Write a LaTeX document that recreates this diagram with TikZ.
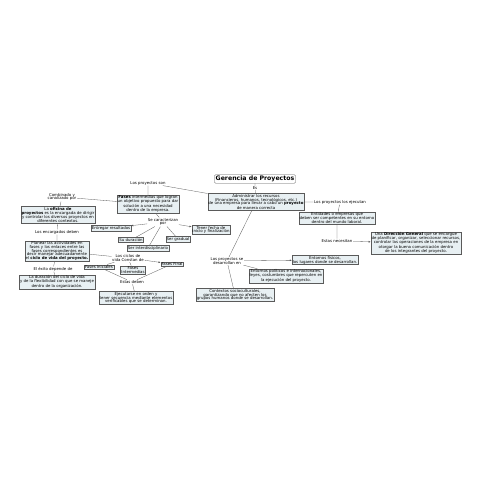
\documentclass[tikz,border=0pt]{standalone}
\usepackage{fontspec}
\setmainfont{DejaVu Sans}
\usetikzlibrary{arrows.meta}
\definecolor{cfill}{RGB}{232,240,243}
\definecolor{cline}{RGB}{90,90,90}
\tikzset{
	concept/.style={draw=cline,line width=.35pt,fill=cfill,align=center,inner sep=.8pt,
		font=\fontsize{3.9}{3.8}\selectfont},
	linkword/.style={align=center,inner sep=.6pt,font=\fontsize{3.9}{3.8}\selectfont},
	link/.style={draw=cline,line width=.3pt},
	tip/.style={link,-{Latex[length=2pt,width=1.8pt]}}
}
\begin{document}
\begin{tikzpicture}[x=1pt,y=-1pt]
			\useasboundingbox[fill=white] (0,0) rectangle (481,481);
			% centro
			\node[concept,fill=white,rounded corners=1pt,inner sep=1.2pt,font=\fontsize{6.2}{7}\selectfont\bfseries] (gerencia) at (255,179) {Gerencia de Proyectos};
			\node[linkword] (es) at (255,188) {Es};
			\node[concept] (admin) at (256,202) {Administrar los recursos\\(Financieros, humanos, tecnológicos, etc.)\\de una empresa para llevar a cabo un \textbf{proyecto}\\de manera correcta};
			% izquierda
			\node[linkword] (proyson) at (148,183) {Los proyectos son};
			\node[concept] (fases) at (148,204) {\textbf{Fases} intermedias que logran\\un objetivo propuesto para dar\\solución a una necesidad\\dentro de la empresa.};
			\node[linkword] (combinado) at (62,197) {Combinado y\\canalizado por};
			\node[concept] (oficina) at (58,215) {La \textbf{oficina de}\\\textbf{proyectos} es la encargada de dirigir\\y controlar los diversos proyectos en\\diferentes contextos.};
			\node[linkword] (encargados) at (57,232) {Los encargados deben};
			\node[concept] (planear) at (57,251) {Planear las actividades en\\fases y los enlaces entre las\\fases correspondientes es\\decir manejar adecuadamente\\el \textbf{ciclo de vida del proyecto.}};
			\node[linkword] (exito) at (53,269) {El éxito depende de};
			\node[concept] (duracion) at (57,282) {La duración del ciclo de vida\\y de la flexibilidad con que se maneje\\dentro de la organización.};
			\node[linkword] (caracterizan) at (163,222) {Se caracterizan\\por};
			\node[concept] (entregar) at (111,228) {Entregar resultados};
			\node[concept] (suduracion) at (131,240) {Su duración};
			\node[concept] (gradual) at (178,239) {Ser gradual};
			\node[concept] (interdisc) at (148,248) {Ser interdisciplinario};
			\node[concept] (fecha) at (211,230) {Tener fecha de\\inicio y finalización};
			\node[linkword] (ciclos) at (128,258) {Los ciclos de\\vida Constan de};
			\node[concept] (iniciales) at (99,267) {Fases Iniciales};
			\node[concept] (intermedias) at (133,270) {Fases\\Intermedias};
			\node[concept] (final) at (172,264) {Fases Final};
			\node[linkword] (estasdeben) at (132,282) {Estas deben};
			\node[concept] (ejecutarse) at (136,298) {Ejecutarse en orden y\\tener secuencia mediante elementos\\verificables que se determinan.};
			% abajo
			\node[linkword] (desarrollan) at (227,261) {Los proyectos se\\desarrollan en};
			\node[concept] (fisicos) at (325,260) {Entornos físicos,\\los lugares donde se desarrollan.};
			\node[concept] (politicos) at (286,276) {Entornos políticos e internacionales,\\leyes, costumbres que repercuten en\\la ejecución del proyecto.};
			\node[concept] (contextos) at (235,295) {Contextos socioculturales,\\garantizando que no afecten los\\grupos humanos donde se desarrollan.};
			% derecha
			\node[linkword] (ejecutan) at (340,202) {Los proyectos los ejecutan};
			\node[concept] (entidades) at (337,218) {Entidades o empresas que\\deben ser competentes en su entorno\\dentro del mundo laboral.};
			\node[linkword] (necesitan) at (337,241) {Estas necesitan};
			\node[concept] (direccion) at (416,243) {Una \textbf{Dirección General} que se encargue\\de planificar, organizar, seleccionar recursos,\\controlar las operaciones de la empresa en\\otorgar la buena comunicación dentro\\de los integrantes del proyecto.};
			
			\draw[link] (gerencia)--(es) (es)--(admin)
			(admin)--(proyson) (proyson)--(fases)
			(admin)--(ejecutan) (ejecutan)--(entidades) (entidades)--(necesitan)
			(admin)--(desarrollan) (desarrollan)--(politicos) (desarrollan)--(contextos)
			(fases)--(combinado) (combinado)--(oficina) (oficina)--(encargados)
			(encargados)--(planear) (planear)--(exito) (exito)--(duracion)
			(fases)--(caracterizan) (caracterizan)--(suduracion) (caracterizan)--(interdisc) (caracterizan)--(gradual)
			(planear)--(ciclos) (ciclos)--(iniciales) (ciclos)--(intermedias)
			(iniciales)--(estasdeben) (final)--(estasdeben) (estasdeben)--(ejecutarse)
			;
			\draw[tip] (necesitan)--(direccion);
			\draw[tip] (desarrollan)--(fisicos);
			\draw[tip] (caracterizan)--(entregar);
			\draw[tip] (caracterizan)--(fecha);
			\draw[tip] (ciclos)--(final);
		\end{tikzpicture}
\end{document}
